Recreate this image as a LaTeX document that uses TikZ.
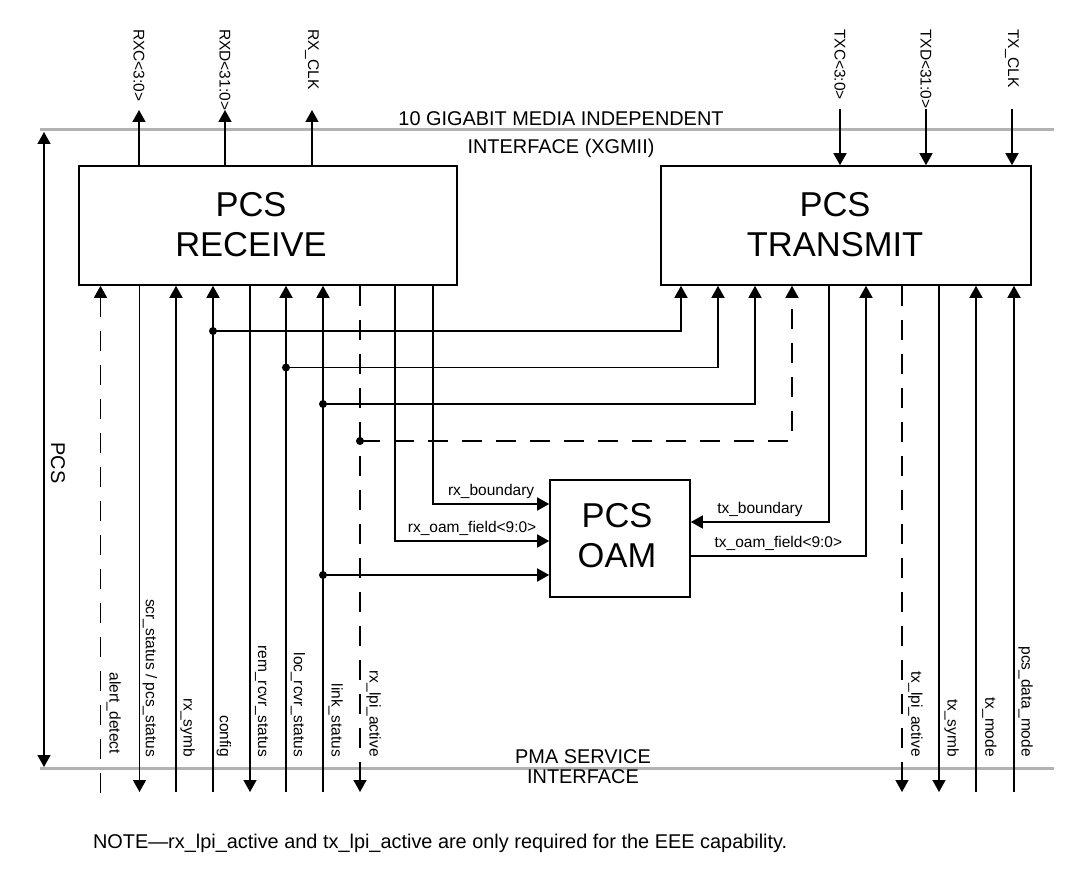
\documentclass[tikz,border=0pt]{standalone}
\usepackage{fontspec}
\setmainfont{Liberation Sans}
\usetikzlibrary{arrows.meta}

\tikzset{
  blk/.style={draw, line width=1.6pt, inner sep=0pt},
  big/.style={font=\fontsize{34.5}{40}\selectfont, align=center},
  sig/.style={font=\fontsize{15.5}{17}\selectfont, inner sep=1pt},
  vsig/.style={sig, rotate=-90},
  ifc/.style={font=\fontsize{19.9}{24}\selectfont, align=center},
  wire/.style={line width=1.5pt},
  arr/.style={wire, -{Triangle[length=12pt,width=13pt]}},
  dsh/.style={dash pattern=on 20pt off 14pt},
  bound/.style={draw=gray!60, line width=3pt},
  jn/.style={circle, fill, inner sep=0pt, minimum size=8pt},
}

\begin{document}
\begin{tikzpicture}[x=1pt,y=-1pt]
\useasboundingbox (0,0) rectangle (1080,885);

\coordinate (xl) at (40,130);  \coordinate (xr) at (1054,130);
\coordinate (pl) at (40,768);  \coordinate (pr) at (1054,768);
\draw[bound] (xl) -- (xr);
\draw[bound] (pl) -- (pr);
\node[ifc, font=\fontsize{19.9}{28.7}\selectfont] (xgmii) at (561,134.5) {10 GIGABIT MEDIA INDEPENDENT\\INTERFACE (XGMII)};
\node[ifc, font=\fontsize{19.9}{20}\selectfont] (pma) at (583,767) {PMA SERVICE\\INTERFACE};

\coordinate (pcst) at (44,132); \coordinate (pcsb) at (44,767);
\draw[wire, {Triangle[length=12pt,width=13pt]}-{Triangle[length=12pt,width=13pt]}] (pcsb) -- (pcst);
\node[ifc, rotate=-90] (pcs) at (58,463) {PCS};

\node[blk, minimum width=378pt, minimum height=119pt] (rx)  at (268,225.5) {};
\node[blk, minimum width=370pt, minimum height=119pt] (tx)  at (846,225.5) {};
\node[blk, minimum width=140pt, minimum height=117pt] (oam) at (620,538.5) {};
\node[big] (rxt)  at (251,225)   {PCS\\RECEIVE};
\node[big] (txt)  at (835,225)   {PCS\\TRANSMIT};
\node[big] (oamt) at (617,535.7) {PCS\\OAM};

% XGMII side
\coordinate (rxc)   at (139,110);
\coordinate (rxd)   at (225,110);
\coordinate (rxclk) at (312,110);
\coordinate (txc)   at (840,109);
\coordinate (txd)   at (926,109);
\coordinate (txclk) at (1012,109);

\path[arr]
  (rx.north -| rxc)   edge (rxc)
  (rx.north -| rxd)   edge (rxd)
  (rx.north -| rxclk) edge (rxclk)
  (txc)   edge (txc |- tx.north)
  (txd)   edge (txd |- tx.north)
  (txclk) edge (txclk |- tx.north);

\node[vsig, anchor=west] (lrxc)   at (139,28)  {RXC<3:0>};
\node[vsig, anchor=west] (lrxd)   at (225,28)  {RXD<31:0>};
\node[vsig, anchor=west] (lrxclk) at (312,28)  {RX\_CLK};
\node[vsig, anchor=west] (ltxc)   at (840,28)  {TXC<3:0>};
\node[vsig, anchor=west] (ltxd)   at (926,28)  {TXD<31:0>};
\node[vsig, anchor=west] (ltxclk) at (1012,28) {TX\_CLK};

% PMA side
\coordinate (ad)   at (100.5,793);
\coordinate (scr)  at (139.5,792);
\coordinate (rsy)  at (176,792);
\coordinate (cfg)  at (213,792);
\coordinate (rem)  at (250,792);
\coordinate (loc)  at (286,792);
\coordinate (lnk)  at (323,792);
\coordinate (rlpi) at (360,792);
\coordinate (tlpi) at (902,792);
\coordinate (tsy)  at (939,792);
\coordinate (tmd)  at (976,792);
\coordinate (pdm)  at (1014,792);

\path[arr]
  (rsy) edge (rsy |- rx.south)
  (cfg) edge (cfg |- rx.south)
  (loc) edge (loc |- rx.south)
  (lnk) edge (lnk |- rx.south)
  (rx.south -| scr) edge (scr)
  (rx.south -| rem) edge (rem)
  (tmd) edge (tmd |- tx.south)
  (pdm) edge (pdm |- tx.south)
  (tx.south -| tsy) edge (tsy);
\path[arr, dsh]
  (ad) edge (ad |- rx.south)
  (rx.south -| rlpi) edge (rlpi)
  (tx.south -| tlpi) edge (tlpi);

\node[vsig, anchor=east] (lad)   at (113.6,755) {alert\_detect};
\node[vsig, anchor=east] (lscr)  at (149.8,758) {scr\_status / pcs\_status};
\node[vsig, anchor=east] (lrsy)  at (187.7,758) {rx\_symb};
\node[vsig, anchor=east] (lcfg)  at (223.8,758) {config};
\node[vsig, anchor=east] (lrem)  at (261.7,758) {rem\_rcvr\_status};
\node[vsig, anchor=east] (lloc)  at (297.9,758) {loc\_rcvr\_status};
\node[vsig, anchor=east] (llnk)  at (335.7,758) {link\_status};
\node[vsig, anchor=east] (lrlpi) at (373.6,758) {rx\_lpi\_active};
\node[vsig, anchor=east] (ltlpi) at (915.3,758) {tx\_lpi\_active};
\node[vsig, anchor=east] (ltsy)  at (951.5,758) {tx\_symb};
\node[vsig, anchor=east] (ltmd)  at (989.4,758) {tx\_mode};
\node[vsig, anchor=east] (lpdm)  at (1025.5,758) {pcs\_data\_mode};

% branches to transmit and oam
\node[jn] (jcfg) at (213,331) {};
\node[jn] (jloc) at (286,367.5) {};
\node[jn] (jlnk) at (323,404) {};
\node[jn] (jlpi) at (360,441) {};
\node[jn] (joam) at (323,575) {};

\draw[arr] (jcfg.center) -| (tx.south -| 681,0);
\draw[arr] (jloc.center) -| (tx.south -| 718,0);
\draw[arr] (jlnk.center) -| (tx.south -| 755,0);
\draw[arr, dsh] (jlpi.center) -| (tx.south -| 792,0);
\draw[arr] (joam.center) -- (oam.west |- joam);

\draw[arr] (rx.south -| 433,0) |- node[sig, pos=0.75, above=4pt] {rx\_boundary} (oam.west |- 0,504);
\draw[arr] (rx.south -| 395,0) |- node[sig, pos=0.75, above=4pt] {rx\_oam\_field<9:0>} (oam.west |- 0,541);
\draw[arr] (tx.south -| 829,0) |- node[sig, pos=0.75, above=4pt] {tx\_boundary} (oam.east |- 0,522);
\draw[arr] (oam.east |- 0,556) -| node[sig, pos=0.25, above=4pt] {tx\_oam\_field<9:0>} (tx.south -| 866,0);

\node[ifc, anchor=west] (note) at (89.5,843) {NOTE—rx\_lpi\_active and tx\_lpi\_active are only required for the EEE capability.};
\end{tikzpicture}
\end{document}
